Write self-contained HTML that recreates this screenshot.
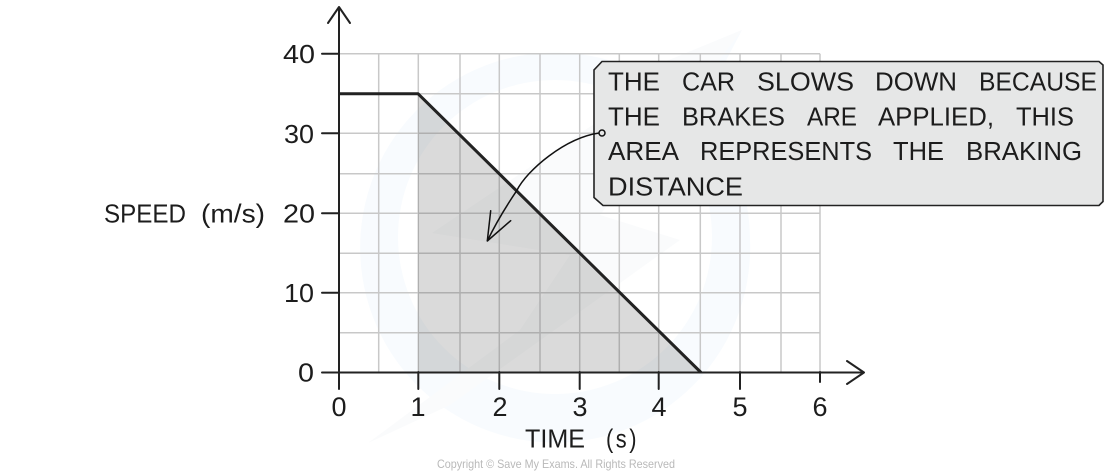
<!DOCTYPE html>
<html>
<head>
<meta charset="utf-8">
<style>
html,body{margin:0;padding:0;background:#fff}
svg{display:block}
text{font-family:"Liberation Sans",sans-serif;fill:#1c1c1c}
.a{font-size:26px}
.d{font-size:27px}
.b{font-size:26px}
</style>
</head>
<body>
<svg width="1110" height="472" viewBox="0 0 1110 472" xmlns="http://www.w3.org/2000/svg">
<!-- watermark -->
<path d="M742 30 L640 72 A195 195 0 1 0 750 240 A195 195 0 0 0 700 110 L742 30 Z M555 80 A157 157 0 0 1 712 237 A157 157 0 0 1 555 394 A157 157 0 0 1 398 237 A157 157 0 0 1 555 80 Z" fill="#f8fbfe" fill-rule="evenodd"/>
<path d="M368 443 L520 330 L570 255 L432 233 L600 120 L640 72 L742 30 L600 215 L680 240 L450 405 Z" fill="#fafbfc"/>
<!-- grid -->
<g stroke="#c8c8c8" stroke-width="1.5" fill="none">
<path d="M339 53.7H820M339 93.7H820M339 133.3H820M339 173.7H820M339 213.3H820M339 253.3H820M339 292.7H820M339 332.7H820"/>
<path d="M378.7 53.7V372M418.3 53.7V372M460 53.7V372M499.3 53.7V372M540 53.7V372M579.7 53.7V372M619.3 53.7V372M658.7 53.7V372M700.3 53.7V372M740 53.7V372M781 53.7V372M820 53.7V372"/>
</g>
<!-- shaded area -->
<polygon points="418,93.7 701,372.5 418,372.5" fill="#555" fill-opacity="0.22"/>
<!-- axes -->
<g stroke="#222" stroke-width="2" fill="none" stroke-linecap="round" stroke-linejoin="round">
<path d="M339 8V389"/>
<path d="M328 23L339 7L350 23"/>
<path d="M322 372.5H863"/>
<path d="M847 361L864 372.5L847 384"/>
<path d="M322 53.7H339M322 133.3H339M322 213.3H339M322 292.7H339"/>
<path d="M418.3 372V389M499.3 372V389M579.7 372V389M658.7 372V389M740 372V389M820 372V382"/>
</g>
<!-- graph line -->
<path d="M339 93.7H418L701 372.5" stroke="#222" stroke-width="3" fill="none" stroke-linejoin="round"/>
<!-- callout -->
<path d="M602 61.5H1099L1103 65V201.5L1099 205.5H603L594 197.5V70Z" fill="#e6e7e7" stroke="#222" stroke-width="1.6"/>
<path d="M599 133C565 138 527 170 516.7 190.7C505 208 495 225 487.3 241" stroke="#111" stroke-width="1.5" fill="none"/>
<path d="M490.7 210.7L487.3 241L510.7 220.7" stroke="#111" stroke-width="1.5" fill="none" stroke-linecap="round" stroke-linejoin="round"/>
<circle cx="602" cy="133" r="3" fill="#e6e7e7" stroke="#111" stroke-width="1.5"/>
<!-- callout text -->
<g class="b">
<text x="608" y="90.7" textLength="52" lengthAdjust="spacingAndGlyphs">THE</text>
<text x="682" y="90.7" textLength="53" lengthAdjust="spacingAndGlyphs">CAR</text>
<text x="757" y="90.7" textLength="97" lengthAdjust="spacingAndGlyphs">SLOWS</text>
<text x="875" y="90.7" textLength="82" lengthAdjust="spacingAndGlyphs">DOWN</text>
<text x="979" y="90.7" textLength="118" lengthAdjust="spacingAndGlyphs">BECAUSE</text>
<text x="608" y="125.7" textLength="52" lengthAdjust="spacingAndGlyphs">THE</text>
<text x="682" y="125.7" textLength="103" lengthAdjust="spacingAndGlyphs">BRAKES</text>
<text x="807" y="125.7" textLength="50" lengthAdjust="spacingAndGlyphs">ARE</text>
<text x="878" y="125.7" textLength="116" lengthAdjust="spacingAndGlyphs">APPLIED,</text>
<text x="1016" y="125.7" textLength="58" lengthAdjust="spacingAndGlyphs">THIS</text>
<text x="608" y="160" textLength="71" lengthAdjust="spacingAndGlyphs">AREA</text>
<text x="700" y="160" textLength="172" lengthAdjust="spacingAndGlyphs">REPRESENTS</text>
<text x="893" y="160" textLength="51" lengthAdjust="spacingAndGlyphs">THE</text>
<text x="966" y="160" textLength="116" lengthAdjust="spacingAndGlyphs">BRAKING</text>
<text x="608" y="195.7" textLength="135" lengthAdjust="spacingAndGlyphs">DISTANCE</text>
</g>
<!-- y labels -->
<g class="a">
<text x="283" y="62.8" textLength="32" lengthAdjust="spacingAndGlyphs">40</text>
<text x="284" y="143" textLength="30" lengthAdjust="spacingAndGlyphs">30</text>
<text x="283" y="222.7" textLength="32" lengthAdjust="spacingAndGlyphs">20</text>
<text x="284" y="302" textLength="30" lengthAdjust="spacingAndGlyphs">10</text>
<text x="298" y="381.5" textLength="16" lengthAdjust="spacingAndGlyphs">0</text>
<text x="104" y="222.7" textLength="82" lengthAdjust="spacingAndGlyphs">SPEED</text>
<text x="201" y="222.7" textLength="64" lengthAdjust="spacingAndGlyphs">(m/s)</text>
</g>
<!-- x labels -->
<g class="d" text-anchor="middle">
<text x="339" y="416">0</text>
<text x="418" y="416">1</text>
<text x="500" y="416">2</text>
<text x="580" y="416">3</text>
<text x="659" y="416">4</text>
<text x="740" y="416">5</text>
<text x="820" y="416">6</text>
</g>
<g class="a">
<text x="525" y="447.7" textLength="60" lengthAdjust="spacingAndGlyphs">TIME</text>
<text x="606" y="447.7" textLength="33" lengthAdjust="spacingAndGlyphs" letter-spacing="3">(s)</text>
</g>
<text x="437" y="468" font-size="12" textLength="238" lengthAdjust="spacingAndGlyphs" style="fill:#b9b9b9">Copyright © Save My Exams. All Rights Reserved</text>
</svg>
</body>
</html>
